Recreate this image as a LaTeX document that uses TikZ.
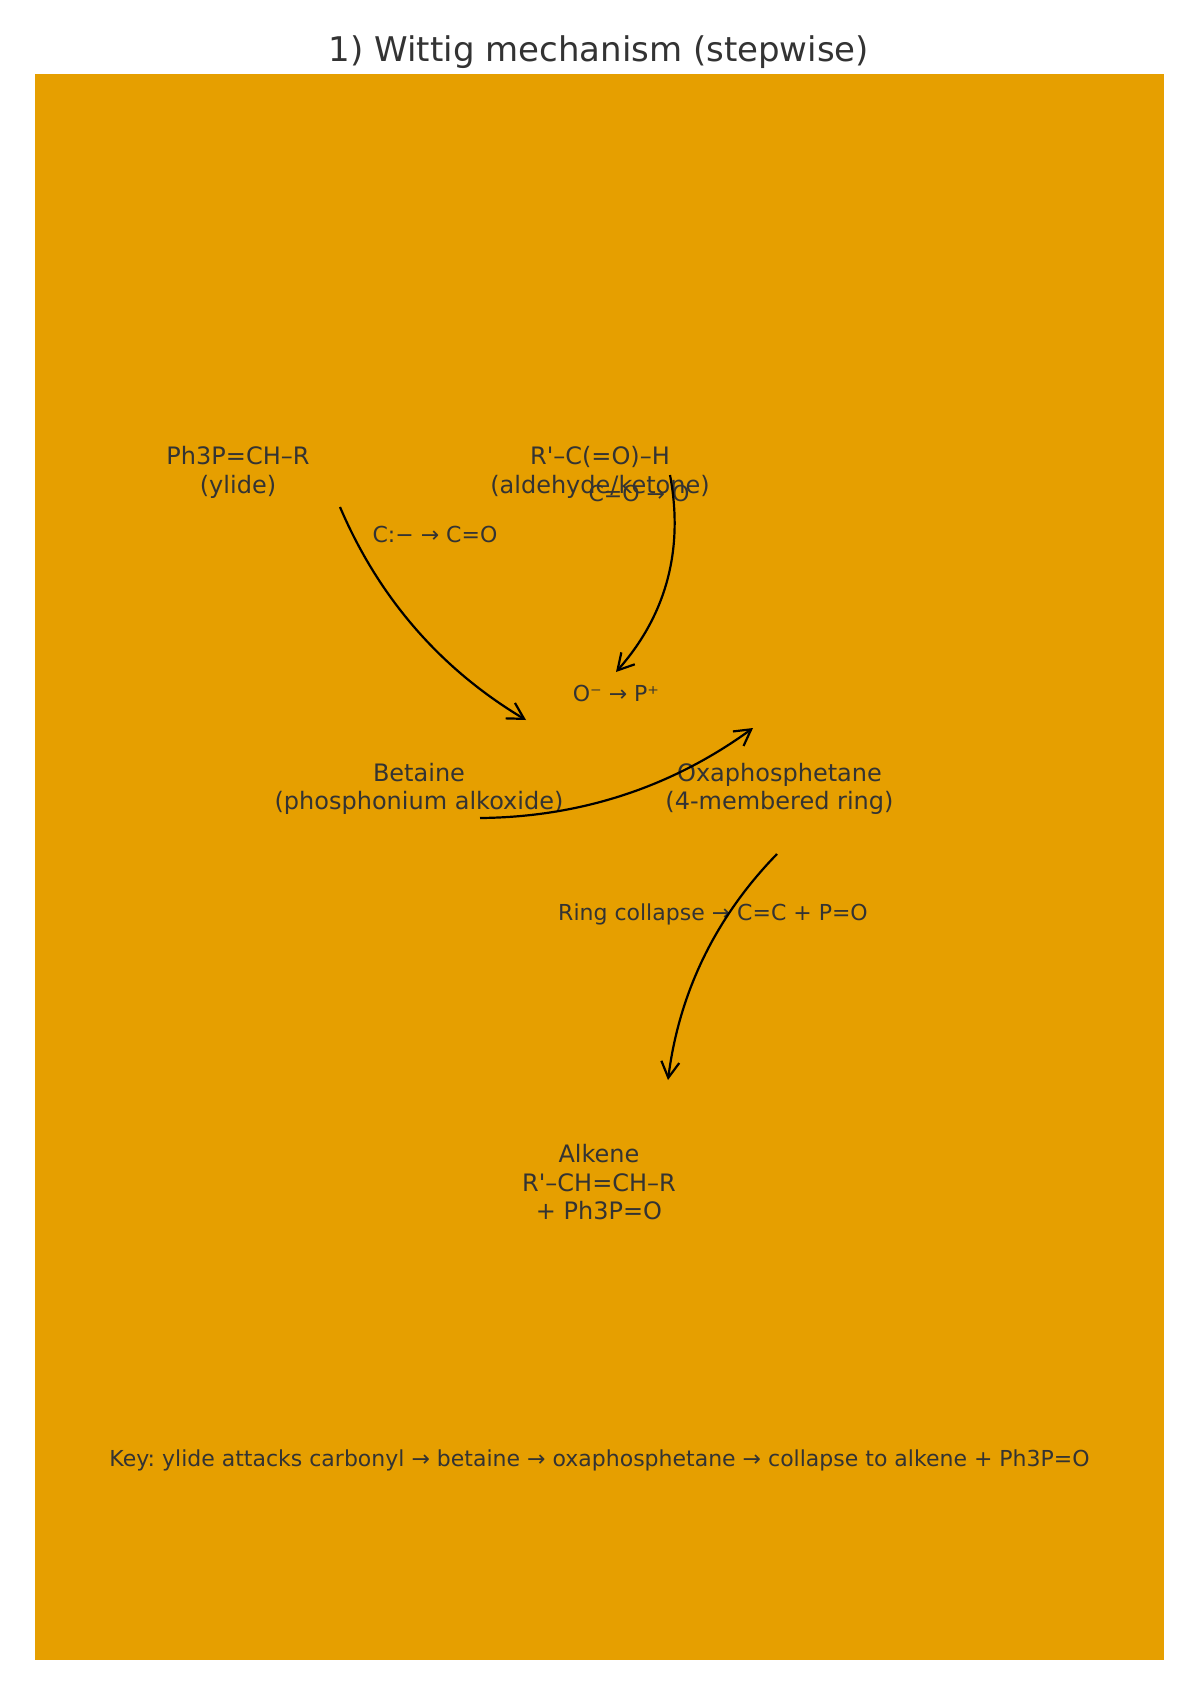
\documentclass[tikz,border=0pt]{standalone}
\usepackage{fontspec}
\newfontfamily\dejavu{DejaVu Sans}
\usetikzlibrary{arrows.meta,calc}
\definecolor{panel}{HTML}{E69F00}
\definecolor{ink}{HTML}{333333}
\frenchspacing
\begin{document}
\begin{tikzpicture}[x=1pt,y=-1pt,
  lbl/.style={font=\dejavu\fontsize{24}{28.5}\selectfont, text=ink, align=center, inner sep=0pt},
  note/.style={font=\dejavu\fontsize{22}{26}\selectfont, text=ink, inner sep=0pt, anchor=base},
  arr/.style={line width=2.2pt, draw=black, -{Straight Barb[length=16pt,width=18pt]}}]
\useasboundingbox (0,0) rectangle (1200,1696);
\fill[white] (0,0) rectangle (1200,1696);
\fill[panel] (35,74) rectangle (1164,1660);
% title
\node[font=\dejavu\fontsize{34}{40}\selectfont, text=ink, anchor=base, inner sep=0pt] (title) at (599,61.5) {1) Wittig mechanism (stepwise)};
% species
\node[lbl] (ylide) at (238,472.5) {Ph3P=CH–R\\(ylide)};
\node[lbl] (carbonyl) at (600,472.5) {R'–C(=O)–H\\(aldehyde/ketone)};
\node[lbl] (betaine) at (419,789) {Betaine\\(phosphonium alkoxide)};
\node[lbl] (oxa) at (779.5,789) {Oxaphosphetane\\(4-membered ring)};
\node[lbl] (alkene) at (599,1182.5) {Alkene\\R'–CH=CH–R\\+ Ph3P=O};
% arrow labels
\node[note] (l1) at (435,542) {C:− → C=O};
\node[note] (l2) at (639,501.5) {C=O → O};
\node[note] (l3) at (616,701) {O⁻ → P⁺};
\node[note] (l4) at (713,920) {Ring collapse → C=C + P=O};
\node[note] (key) at (599.5,1466) {Key: ylide attacks carbonyl → betaine → oxaphosphetane → collapse to alkene + Ph3P=O};
% arrow end points and control points
\coordinate (a1s) at (340,507);  \coordinate (a1c) at (398.3,643.7); \coordinate (a1e) at (526,720);
\coordinate (a2s) at (670,475);  \coordinate (a2c) at (691.1,587.1); \coordinate (a2e) at (616,672);
\coordinate (a3s) at (480,818);  \coordinate (a3c) at (630.9,816.7); \coordinate (a3e) at (753,728);
\coordinate (a4s) at (777,854);  \coordinate (a4c) at (684.7,948.8); \coordinate (a4e) at (668,1080);
\draw[arr] (a1s) .. controls ($(a1s)!2/3!(a1c)$) and ($(a1e)!2/3!(a1c)$) .. (a1e);
\draw[arr] (a2s) .. controls ($(a2s)!2/3!(a2c)$) and ($(a2e)!2/3!(a2c)$) .. (a2e);
\draw[arr] (a3s) .. controls ($(a3s)!2/3!(a3c)$) and ($(a3e)!2/3!(a3c)$) .. (a3e);
\draw[arr] (a4s) .. controls ($(a4s)!2/3!(a4c)$) and ($(a4e)!2/3!(a4c)$) .. (a4e);
\end{tikzpicture}
\end{document}
